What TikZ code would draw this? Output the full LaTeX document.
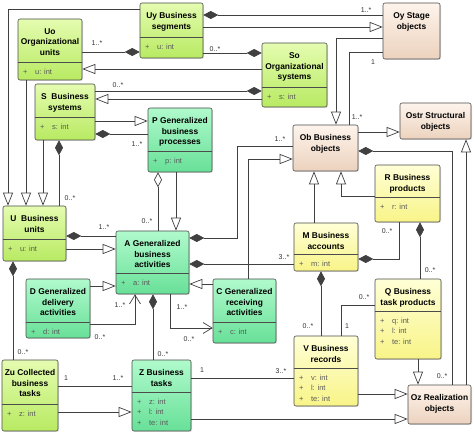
\documentclass[tikz,border=0pt]{standalone}
\usepackage{fontspec}
\setmainfont{Liberation Sans}
\usetikzlibrary{arrows.meta,shadows}
\definecolor{limetop}{RGB}{228,252,176}
\definecolor{limebot}{RGB}{184,234,98}
\definecolor{minttop}{RGB}{176,250,204}
\definecolor{mintbot}{RGB}{104,224,152}
\definecolor{yeltop}{RGB}{255,255,214}
\definecolor{yelbot}{RGB}{248,244,136}
\definecolor{pinktop}{RGB}{254,244,236}
\definecolor{pinkbot}{RGB}{236,210,190}
\definecolor{lncol}{RGB}{64,64,64}
\tikzset{box/.style = {rectangle, rounded corners=2pt, draw=black!70, line width=.6pt, inner sep=0pt,
                       drop shadow={shadow xshift=1pt, shadow yshift=-1pt, opacity=.25}},
           gcl/.style = {box, top color=limetop, bottom color=limebot},
           mcl/.style = {box, top color=minttop, bottom color=mintbot},
           ycl/.style = {box, top color=yeltop, bottom color=yelbot},
           ocl/.style = {box, top color=pinktop, bottom color=pinkbot},
           ttl/.style = {anchor=north, align=center, inner sep=0pt, font=\bfseries\fontsize{8.4}{10.5}\selectfont},
           att/.style = {anchor=north west, align=left, inner sep=0pt, text=black!65, font=\fontsize{7.5}{10.5}\selectfont},
           divline/.style = {draw=black!70, line width=.6pt},
           cn/.style = {draw=lncol, line width=.7pt},
           gen/.style = {cn, -{Triangle[open, fill=white, length=13pt, width=10pt]}},
           comp/.style = {cn, {Diamond[length=15pt, width=8pt]}-},
           agg/.style = {cn, {Diamond[open, fill=white, length=15pt, width=8pt]}-},
           nav/.style = {cn, -{Straight Barb[length=9pt, width=11pt]}},
           ml/.style = {inner sep=0pt, text=black!80, font=\fontsize{7}{8}\selectfont}}
% style, name, left, top, right, bottom, divider, title, attributes
\newcommand{\cls}[9]{%
  \node[#1, minimum width={#5-#3}, minimum height={#6-#4}] (#2) at ({(#3+#5)/2},{(#4+#6)/2}) {};
  \node[ttl] (#2-t) at ({(#3+#5)/2},#4+9.5) {#8};
  \draw[divline] (#2.west |- 0,#7) -- (#2.east |- 0,#7);
  \node[att] (#2-a) at (#3+5,#7+6.6) {#9};}
% name, left, top, right, bottom, title
\newcommand{\ocls}[6]{%
  \node[ocl, minimum width={#4-#2}, minimum height={#5-#3}] (#1) at ({(#2+#4)/2},{(#3+#5)/2}) {};
  \node[ttl] (#1-t) at ({(#2+#4)/2},#3+9.5) {#6};}

\begin{document}
\begin{tikzpicture}[x=1pt, y=-1pt]
  \useasboundingbox (0,0) rectangle (474,435);
  % classes
  \cls{gcl}{uo}{18}{19}{82}{80}{62}{Uo\\Organizational\\units}{+\quad u: int}
  \cls{gcl}{uy}{140}{3}{203}{58}{37}{Uy Business\\segments}{+\quad u: int}
  \cls{gcl}{so}{262}{43}{327}{107}{87}{So\\Organizational\\systems}{+\quad s: int}
  \cls{gcl}{s}{35}{84}{95}{140}{117}{S~ Business\\systems}{+\quad s: int}
  \cls{gcl}{u}{3}{206}{66}{261}{239}{U~ Business\\units}{+\quad u: int}
  \cls{gcl}{zu}{2}{360}{58}{431}{404}{Zu Collected\\business\\tasks}{+\quad z: int}
  \cls{mcl}{p}{148}{108}{212}{172}{151}{P Generalized\\business\\processes}{+\quad p: int}
  \cls{mcl}{a}{116}{231}{189}{294}{273}{A Generalized\\business\\activities}{+\quad a: int}
  \cls{mcl}{d}{26}{279}{90}{338}{322}{D Generalized\\delivery\\activities}{+\quad d: int}
  \cls{mcl}{c}{213}{279}{276}{343}{322}{C Generalized\\receiving\\activities}{+\quad c: int}
  \cls{mcl}{z}{132}{360}{191}{431}{392}{Z Business\\tasks}{+\quad z: int\\+\quad l: int\\+\quad te: int}
  \cls{ycl}{m}{294}{223}{358}{271}{254}{M Business\\accounts}{+\quad m: int}
  \cls{ycl}{r}{375}{165}{440}{222}{197}{R Business\\products}{+\quad r: int}
  \cls{ycl}{q}{375}{279}{441}{359}{311}{Q Business\\task products}{+\quad q: int\\+\quad l: int\\+\quad te: int}
  \cls{ycl}{v}{294}{336}{358}{406}{368}{V Business\\records}{+\quad v: int\\+\quad l: int\\+\quad te: int}
  \ocls{oy}{383}{3}{440}{59}{Oy Stage\\objects}
  \ocls{ob}{293}{125}{358}{171}{Ob Business\\objects}
  \ocls{ostr}{400}{103}{471}{139}{Ostr Structural\\objects}
  \ocls{oz}{408}{385}{471}{424}{Oz Realization\\objects}
  % connectors
  \draw[gen] (uy.west |- 0,9) -| (u.north -| 8,0);
  \draw[gen] (uo.south -| 26,0) -- (u.north -| 26,0);
  \draw[gen] (s.south -| 43,0) -- (u.north -| 43,0);
  \draw[comp] (s.south -| 59,0) -- (u.north -| 59,0) node[ml] (l1) at (70,198) {0..*};
  \draw[comp] (uy.west |- 0,52) -- (uo.east |- 0,52) node[ml] (l2) at (97,43) {1..*};
  \draw[gen] (so.west |- 0,69) -- (uo.east |- 0,69);
  \draw[comp] (uy.east |- 0,15) -- (oy.west |- 0,15) node[ml] (l3) at (366,10) {1..*};
  \draw[gen] (uy.east |- 0,27) -- (oy.west |- 0,27);
  \draw[comp] (so.west |- 0,53) -- (uy.east |- 0,53) node[ml] (l4) at (215,49) {0..*};
  \draw[comp] (so.west |- 0,91) -- (s.east |- 0,91) node[ml] (l5) at (118,85) {0..*};
  \draw[gen] (so.west |- 0,99) -- (s.east |- 0,99);
  \draw[gen] (s.east |- 0,121) -- (p.west |- 0,121);
  \draw[comp] (s.east |- 0,134) -- (p.west |- 0,134) node[ml] (l6) at (137,144) {1..*};
  \draw[agg] (p.south -| 158,0) -- (a.north -| 158,0) node[ml] (l7) at (147,221) {0..*};
  \draw[gen] (p.south -| 176,0) -- (a.north -| 176,0);
  \draw[gen] (oy.west |- 0,38) -| (ob.north -| 336,0);
  \draw[cn] (oy.west |- 0,52) -| (ob.north -| 349,0) node[ml] (l8) at (373,62) {1} node[ml] (l9) at (357,117) {1..*};
  \draw[gen] (ob.east |- 0,132) -- (ostr.west |- 0,132);
  \draw[comp] (ob.east |- 0,151) -| (oz.north -| 452,0) node[ml] (l10) at (442,376) {0..*};
  \draw[gen] (oz.north -| 466,0) -- (ostr.south -| 466,0);
  \draw[comp] (a.east |- 0,238) -- ++(48,0) |- (ob.west |- 0,146) node[ml] (l11) at (280,139) {1..*};
  \draw[gen] (c.north -| 248,0) |- (ob.west |- 0,159);
  \draw[comp] (a.east |- 0,264) -- (m.west |- 0,264) node[ml] (l12) at (284,257) {3..*};
  \draw[gen] (c.west |- 0,284) -- (a.east |- 0,284);
  \draw[comp] (u.east |- 0,236) -- (a.west |- 0,236) node[ml] (l13) at (104,227) {1..*};
  \draw[gen] (u.east |- 0,249) -- (a.west |- 0,249);
  \draw[gen] (d.east |- 0,286) -- (a.west |- 0,286);
  \draw[nav] (d.east |- 0,324) -| (a.south -| 135,0) node[ml] (l14) at (120,305) {1..*} node[ml] (l15) at (100,337) {0..*};
  \draw[nav] (a.south -| 170,0) |- (c.west |- 0,328) node[ml] (l16) at (182,307) {1..*} node[ml] (l17) at (189,339) {0..*};
  \draw[comp] (u.south -| 13,0) -- (zu.north -| 13,0) node[ml] (l18) at (23,352) {0..*};
  \draw[comp] (a.south -| 153,0) -- (z.north -| 153,0) node[ml] (l19) at (163,354) {0..*};
  \draw[cn] (zu.east |- 0,386) -- (z.west |- 0,386) node[ml] (l20) at (66,378) {1} node[ml] (l21) at (118,378) {1..*};
  \draw[gen] (zu.east |- 0,412) -- (z.west |- 0,412);
  \draw[cn] (z.east |- 0,378) -- (v.west |- 0,378) node[ml] (l22) at (202,370) {1} node[ml] (l23) at (281,371) {3..*};
  \draw[gen] (z.east |- 0,419) -- (oz.west |- 0,419);
  \draw[gen] (v.east |- 0,394) -- (oz.west |- 0,394);
  \draw[gen] (q.south -| 418,0) -- (oz.north -| 418,0);
  \draw[gen] (m.north -| 314,0) -- (ob.south -| 314,0);
  \draw[gen] (r.west |- 0,196) -| (ob.south -| 341,0);
  \draw[comp] (m.east |- 0,259) -| (r.south -| 399,0) node[ml] (l24) at (387,231) {0..*};
  \draw[comp] (r.south -| 420,0) -- (q.north -| 420,0) node[ml] (l25) at (430,270) {0..*};
  \draw[cn] (q.west |- 0,305) -| (v.north -| 341,0) node[ml] (l26) at (364,297) {0..*} node[ml] (l27) at (347,326) {1};
  \draw[comp] (m.south -| 321,0) -- (v.north -| 321,0) node[ml] (l28) at (308,326) {0..*};
\end{tikzpicture}
\end{document}
